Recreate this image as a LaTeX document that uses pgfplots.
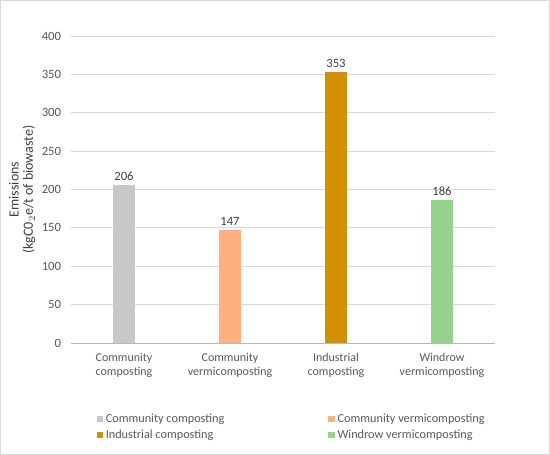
\documentclass[border=0pt]{standalone}
\usepackage{pgfplots}
\pgfplotsset{compat=1.18}
\usepackage{fontspec}
\setmainfont{Carlito}
\definecolor{cgray}{HTML}{C8C8C8}
\definecolor{corange}{HTML}{FFB07E}
\definecolor{cgold}{HTML}{D09200}
\definecolor{cgreen}{HTML}{93D38A}
\definecolor{txt}{HTML}{595959}
\definecolor{lbl}{HTML}{404040}
\definecolor{gridc}{HTML}{D9D9D9}
\begin{document}
\begin{tikzpicture}
\begin{axis}[
    scale only axis,
    width=318pt, height=230.25pt,
    ybar, bar width=17pt, bar shift=0pt,
    xmin=-0.5, xmax=3.5,
    ymin=0, ymax=400,
    ytick={0,50,...,400},
    xtick={0,1,2,3},
    xticklabels={{Community\\composting},{Community\\vermicomposting},{Industrial\\composting},{Windrow\\vermicomposting}},
    xticklabel style={align=center, text=txt, font=\fontsize{9}{10.5}\selectfont},
    yticklabel style={text=txt, font=\fontsize{9.5}{10}\selectfont, xshift=-4pt},
    /pgf/number format/assume math mode=true,
    axis y line*=left,
    y axis line style={draw=none},
    axis x line*=bottom,
    x axis line style={draw=gridc!85!black, line width=0.7pt, -},
    major x tick style={draw=none},
    major y tick style={draw=none},
    ymajorgrids,
    grid style={gridc, line width=0.7pt},
    ylabel={\shortstack{Emissions\\(kgC0$_2$e/t of biowaste)}},
    ylabel style={text=lbl, font=\fontsize{10.5}{11.5}\selectfont, yshift=-2pt},
    nodes near coords,
    every node near coord/.append style={text=lbl, font=\fontsize{9.5}{10}\selectfont},
    legend columns=2,
    legend style={draw=none, fill=none, at={(axis description cs:0,0)}, anchor=north west,
        xshift=16pt, yshift=-49pt, font=\fontsize{9.2}{10}\selectfont, text=txt,
        /tikz/every even column/.append style={column sep=76pt}},
    legend cell align=left,
    legend image code/.code={\fill[#1,draw=none] (0cm,-0.085cm) rectangle (0.17cm,0.085cm);},
]
\addplot[fill=cgray, draw=none] coordinates {(0,206)};
\addlegendentry{Community composting}
\addplot[fill=corange, draw=none] coordinates {(1,147)};
\addlegendentry{Community vermicomposting}
\addplot[fill=cgold, draw=none] coordinates {(2,353)};
\addlegendentry{Industrial composting}
\addplot[fill=cgreen, draw=none] coordinates {(3,186)};
\addlegendentry{Windrow vermicomposting}
\end{axis}
\draw[gridc, line width=0.6pt] (-53pt,-83.6pt) rectangle (359pt,257pt);
\end{tikzpicture}
\end{document}
